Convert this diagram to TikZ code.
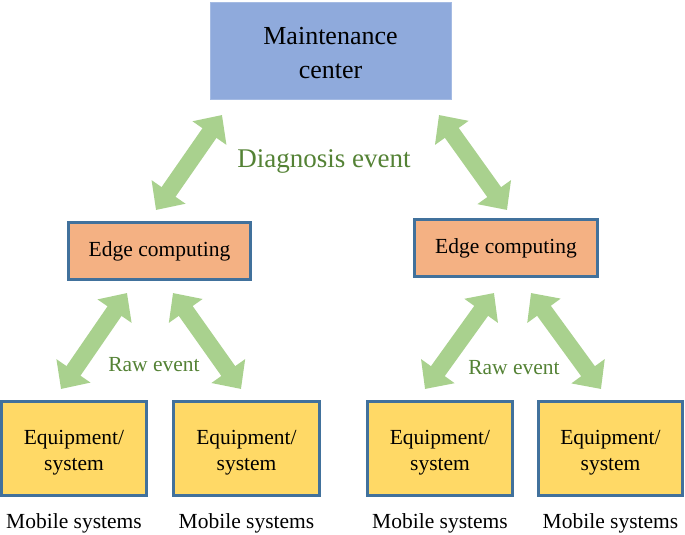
\documentclass[tikz,border=0pt]{standalone}
\usepackage{fontspec}
\setmainfont{Liberation Serif}
\usetikzlibrary{arrows.meta}
\definecolor{mcfill}{HTML}{8FAADC}
\definecolor{edgefill}{HTML}{F4B183}
\definecolor{eqfill}{HTML}{FFD966}
\definecolor{boxline}{HTML}{41719C}
\definecolor{arrowgreen}{HTML}{A9D18E}
\definecolor{labelgreen}{HTML}{548235}
\newcommand{\firststrut}[1]{\rule{0pt}{#1}}
\tikzset{
  mcbox/.style={fill=mcfill, draw=mcfill!80!white, line width=0.5pt, minimum width=241pt, minimum height=97pt, align=center, font=\fontsize{26}{34}\selectfont, inner sep=0pt},
  edgebox/.style={fill=edgefill, draw=boxline, line width=3pt, minimum height=57pt, font=\fontsize{21.5}{26}\selectfont, inner sep=0pt},
  eqbox/.style={fill=eqfill, draw=boxline, line width=3pt, minimum height=94pt, minimum width=145pt, align=center, font=\fontsize{21.5}{26}\selectfont, inner sep=0pt},
  mobile/.style={font=\fontsize{21.5}{26}\selectfont, inner sep=0pt},
  evlabel/.style={text=labelgreen, inner sep=0pt},
  bigarrow/.style={draw=arrowgreen, line width=17pt, {Triangle[width=40pt,length=22pt]}-{Triangle[width=40pt,length=22pt]}}
}
\begin{document}
\begin{tikzpicture}[x=1pt,y=-1pt]
\useasboundingbox (0,0) rectangle (685,535);
% nodes
\node[mcbox] (mc) at (330.5,50.5) {\firststrut{22pt}Maintenance\\center};
\node[edgebox, minimum width=182pt] (edgeL) at (159.5,251) {Edge computing};
\node[edgebox, minimum width=183pt] (edgeR) at (506,248) {Edge computing};
\node[eqbox] (eq1) at (74,448.5) {\firststrut{23pt}Equipment/\\system};
\node[eqbox, minimum width=146pt] (eq2) at (246.5,448.5) {\firststrut{23pt}Equipment/\\system};
\node[eqbox] (eq3) at (440,448.5) {\firststrut{23pt}Equipment/\\system};
\node[eqbox, minimum width=144pt] (eq4) at (610.5,448.5) {\firststrut{23pt}Equipment/\\system};
\node[mobile] (mob1) at (74,523) {Mobile systems};
\node[mobile] (mob2) at (246.5,523) {Mobile systems};
\node[mobile] (mob3) at (440,523) {Mobile systems};
\node[mobile] (mob4) at (610.5,523) {Mobile systems};
\node[evlabel, font=\fontsize{27}{32}\selectfont] (diag) at (324,161) {Diagnosis event};
\node[evlabel, font=\fontsize{21.5}{26}\selectfont] (rawL) at (154,365) {Raw event};
\node[evlabel, font=\fontsize{21.5}{26}\selectfont] (rawR) at (514,368) {Raw event};
% arrow end points
\coordinate (a1s) at (156,210); \coordinate (a1e) at (222,115);
\coordinate (a2s) at (507,210); \coordinate (a2e) at (439,115);
\coordinate (b1s) at (61,389);  \coordinate (b1e) at (127,293);
\coordinate (b2s) at (241,389); \coordinate (b2e) at (173,293);
\coordinate (b3s) at (425,389); \coordinate (b3e) at (494,293);
\coordinate (b4s) at (601,389); \coordinate (b4e) at (531,293);
\draw[bigarrow] (a1s) -- (a1e);
\draw[bigarrow] (a2s) -- (a2e);
\draw[bigarrow] (b1s) -- (b1e);
\draw[bigarrow] (b2s) -- (b2e);
\draw[bigarrow] (b3s) -- (b3e);
\draw[bigarrow] (b4s) -- (b4e);
\end{tikzpicture}
\end{document}
